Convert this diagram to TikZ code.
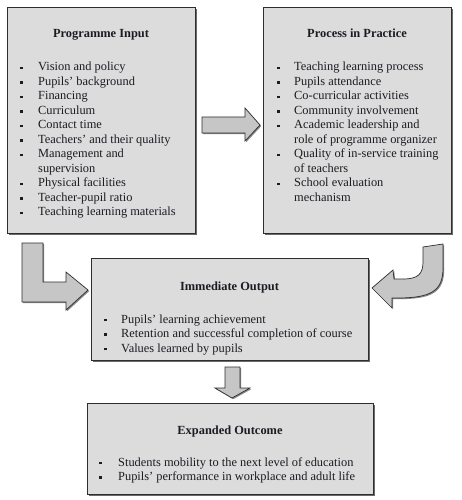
\documentclass[tikz,border=0pt]{standalone}
\usepackage{fontspec}
\setmainfont{Liberation Serif}
\usetikzlibrary{shadows}
\definecolor{boxfill}{HTML}{DCDCDC}
\definecolor{arrowfill}{HTML}{C6C6C6}
\definecolor{edge}{HTML}{2E2E2E}
\definecolor{shade}{HTML}{6A6A6A}
\definecolor{ink}{HTML}{1E1A22}
\tikzset{
  panel/.style={draw=edge, fill=boxfill, line width=0.8pt, inner sep=0pt, outer sep=0pt, anchor=north west,
    drop shadow={shadow xshift=2.2pt, shadow yshift=-2.2pt, fill=shade, opacity=1}},
  bigarrow/.style={draw=edge, fill=arrowfill, line width=0.7pt, line join=miter,
    drop shadow={shadow xshift=1.2pt, shadow yshift=-1.2pt, fill=shade, opacity=0.8}},
  title/.style={font=\fontsize{12.4}{14.5}\selectfont\bfseries, anchor=base, inner sep=0pt, text=ink},
  list/.style={font=\fontsize{12.4}{14.5}\selectfont, anchor=base west, inner sep=0pt, text=ink},
}
\newcommand{\bul}[1]{\makebox[#1][l]{\rule[1.6pt]{2.7pt}{2.7pt}}}
\begin{document}
\begin{tikzpicture}[x=1pt,y=-1pt]
\useasboundingbox (0,0) rectangle (462,500);
\fill[white] (0,0) rectangle (462,500);

% boxes
\node[panel, minimum width=188pt, minimum height=226pt] (pin) at (7,7) {};
\node[panel, minimum width=188pt, minimum height=226pt] (pip) at (263,7) {};
\node[panel, minimum width=277pt, minimum height=102pt] (imo) at (91,258) {};
\node[panel, minimum width=286pt, minimum height=91pt] (exo) at (87,403) {};

% titles
\node[title] (pint) at (101,38) {Programme Input};
\node[title] (pipt) at (357,38) {Process in Practice};
\node[title] (imot) at (229.5,290) {Immediate Output};
\node[title] (exot) at (230,434) {Expanded Outcome};

% lists
\node[list] (pinl) at (20,71) {\begin{tabular}[t]{@{}l@{}}
\bul{18pt}Vision and policy\\
\bul{18pt}Pupils' background\\
\bul{18pt}Financing\\
\bul{18pt}Curriculum\\
\bul{18pt}Contact time\\
\bul{18pt}Teachers' and their quality\\
\bul{18pt}Management and\\
\hspace*{18pt}supervision\\
\bul{18pt}Physical facilities\\
\bul{18pt}Teacher-pupil ratio\\
\bul{18pt}Teaching learning materials
\end{tabular}};

\node[list] (pipl) at (277,71) {\begin{tabular}[t]{@{}l@{}}
\bul{17pt}Teaching learning process\\
\bul{17pt}Pupils attendance\\
\bul{17pt}Co-curricular activities\\
\bul{17pt}Community involvement\\
\bul{17pt}Academic leadership and\\
\hspace*{17pt}role of programme organizer\\
\bul{17pt}Quality of in-service training\\
\hspace*{17pt}of teachers\\
\bul{17pt}School evaluation\\
\hspace*{17pt}mechanism
\end{tabular}};

\node[list] (imol) at (104,323) {\begin{tabular}[t]{@{}l@{}}
\bul{17pt}Pupils' learning achievement\\
\bul{17pt}Retention and successful completion of course\\
\bul{17pt}Values learned by pupils
\end{tabular}};

\node[list] (exol) at (99,466) {\begin{tabular}[t]{@{}l@{}}
\bul{19pt}Students mobility to the next level of education\\
\bul{19pt}Pupils' performance in workplace and adult life
\end{tabular}};

% block arrows
\path[bigarrow] (202,117) -- (245,117) -- (245,108) -- (260,125) -- (245,141) -- (245,133) -- (202,133) -- cycle;
\path[bigarrow] (225,367) -- (240,367) -- (240,388) -- (250,388) -- (232,398) -- (215,388) -- (225,388) -- cycle;
\path[bigarrow] (22,243) -- (43,243) -- (43,282) -- (66,282) -- (66,272) -- (88,290) -- (66,310) -- (66,302) -- (22,302) -- cycle;
\path[bigarrow] (443,244) -- (443,268) .. controls (443,291) and (431,298) .. (397,298)
  -- (392,298) -- (392,308) -- (372,288) -- (393,270) -- (394,279) -- (403,279)
  .. controls (418,279) and (423,274) .. (423,262) -- (423,247) -- cycle;
\end{tikzpicture}
\end{document}
